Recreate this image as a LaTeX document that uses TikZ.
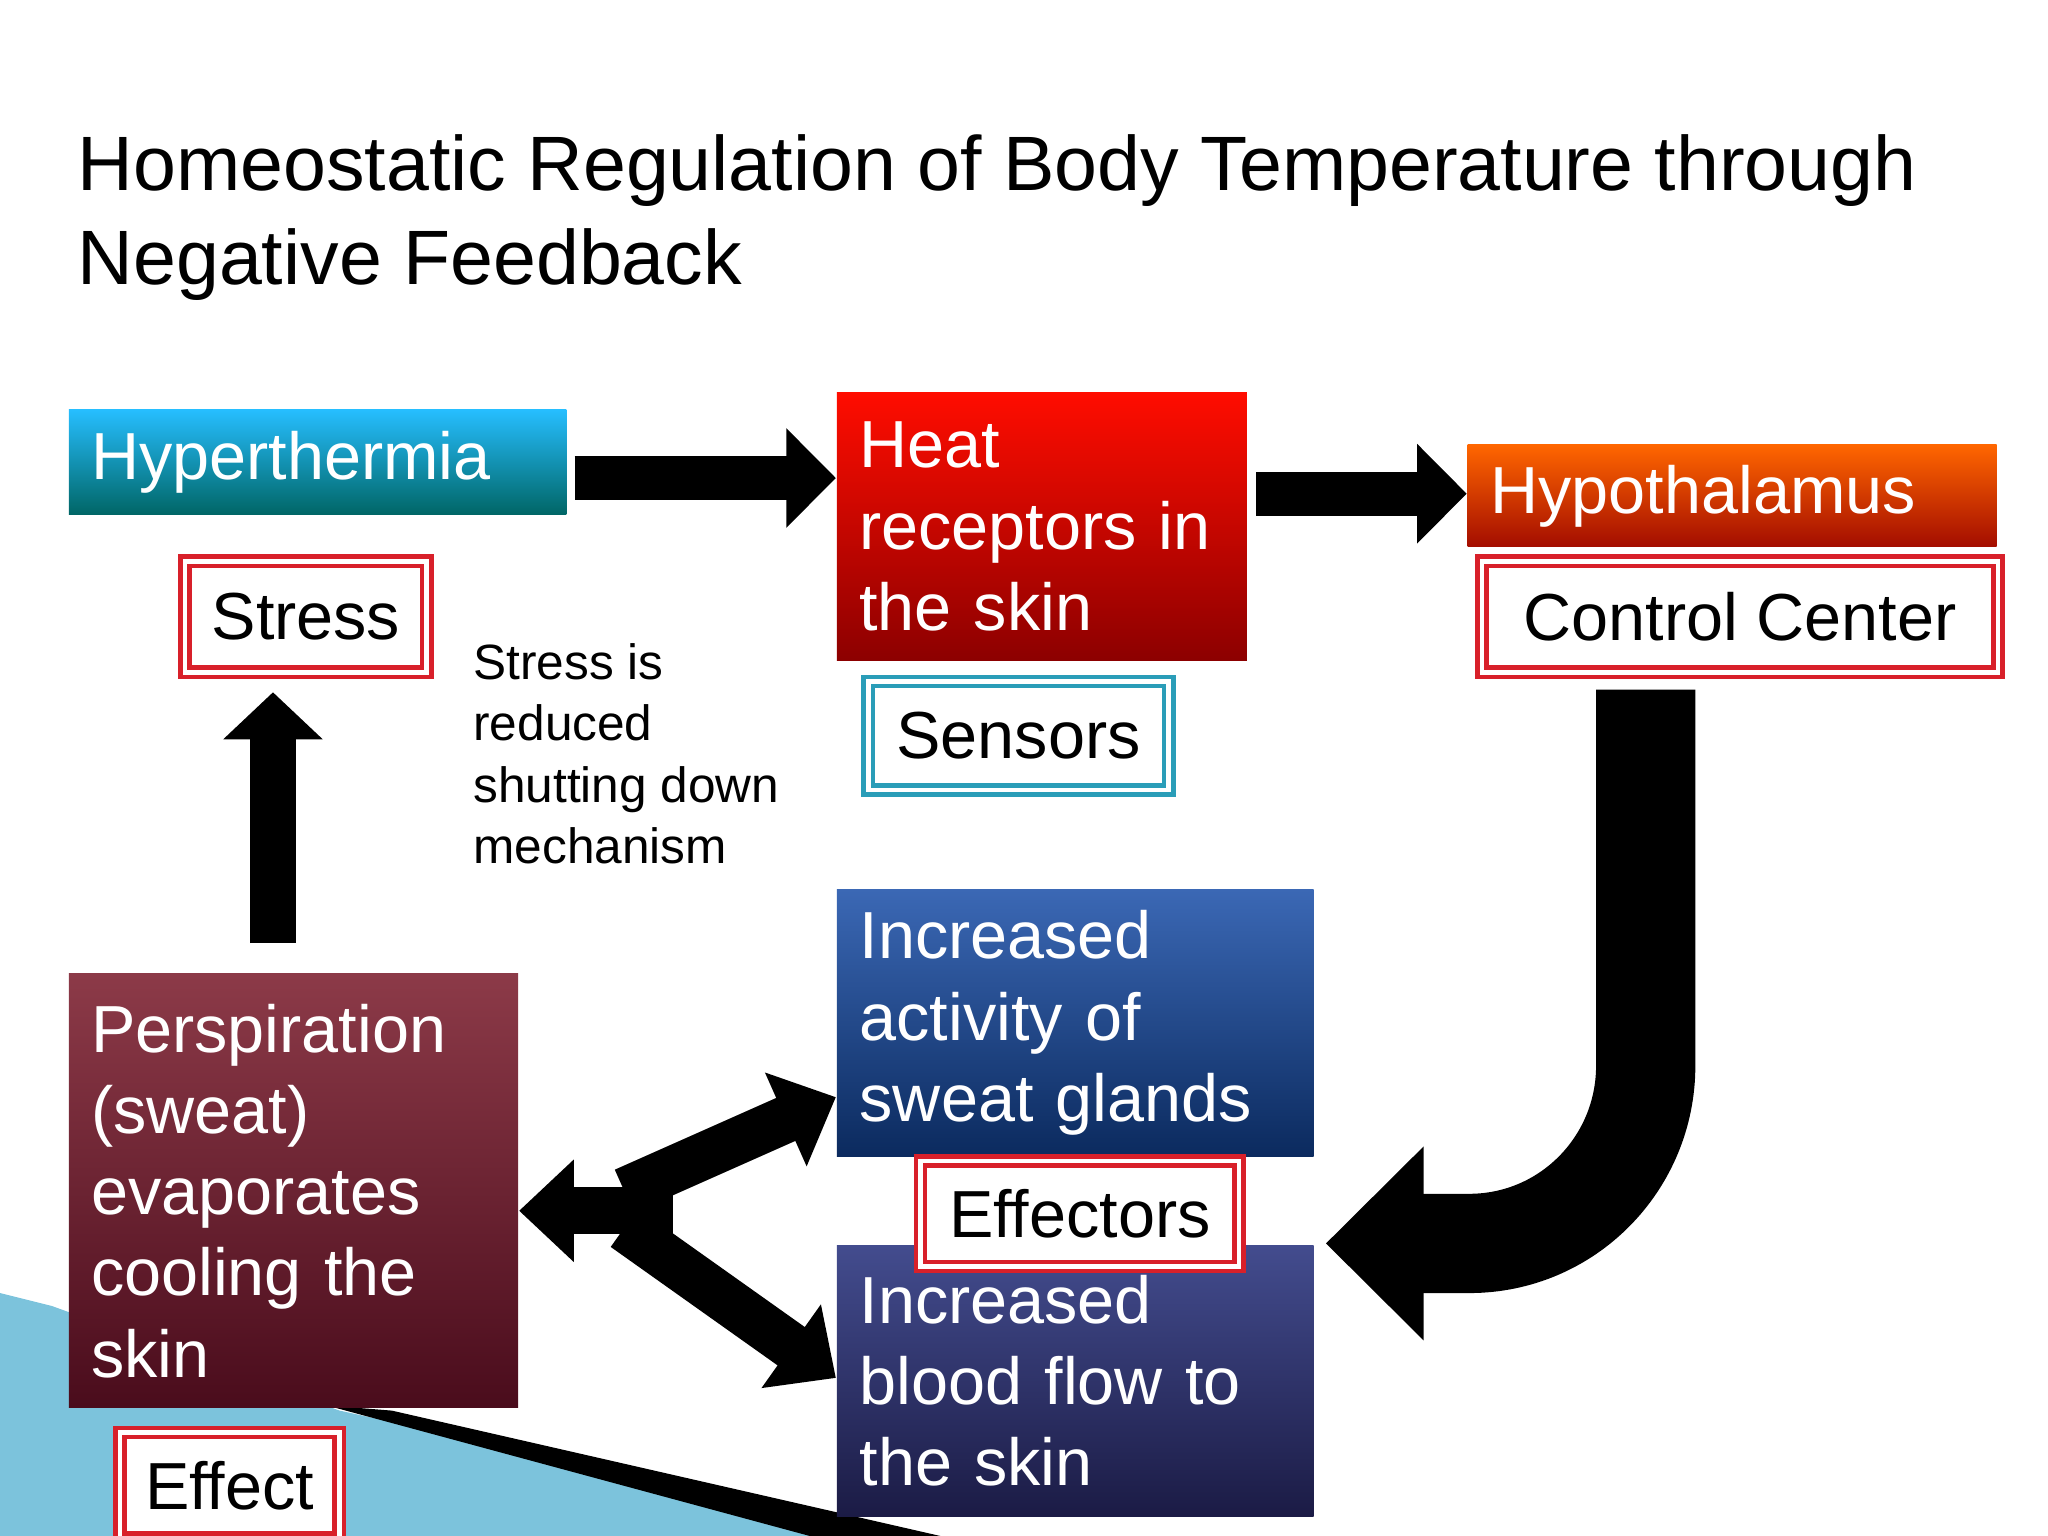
\documentclass[tikz,border=0pt]{standalone}
\usepackage{fontspec}
\setmainfont{Liberation Sans}
\usetikzlibrary{arrows.meta}
\definecolor{bred}{HTML}{D8202A}
\definecolor{bteal}{HTML}{2A9DB8}
\definecolor{swoosh}{HTML}{7CC3DC}
\definecolor{pertop}{HTML}{8C3A48}
\definecolor{perbot}{HTML}{4A0C1C}
\definecolor{acttop}{HTML}{3B68B5}
\definecolor{actbot}{HTML}{0B2A5E}
\definecolor{bltop}{HTML}{434C8E}
\definecolor{blbot}{HTML}{1B1B45}
\tikzset{
  box/.style={anchor=north west, inner sep=0pt, align=left, text=white,
     font=\fontsize{14.5}{17.7}\selectfont, text width=#1},
  lab/.style={anchor=north west, draw=#1, line width=0.35mm, double=white, double distance=0.35mm,
     fill=white, inner sep=0pt, font=\fontsize{14.5}{17.7}\selectfont},
  blk/.style={line width=3.4mm, -{Triangle[width=7.4mm,length=3.8mm]}},
  blk2/.style={line width=3.6mm, -{Triangle[width=7.6mm,length=4.2mm]}},
}
\begin{document}
\begin{tikzpicture}[x=0.1mm,y=0.1mm]
\useasboundingbox (0,0) rectangle (1568,1176);
% background decoration
\fill[swoosh] (0,186) -- (40,176) -- (260,96) -- (700,0) -- (0,0) -- cycle;
\fill[black] (250,100) -- (300,96) -- (720,0) -- (620,0) -- cycle;
% title
\node[anchor=north west, align=left, font=\fontsize{16.8}{20.3}\selectfont] (title) at (47,1085)
  {Homeostatic Regulation of Body Temperature through\\Negative Feedback};
% boxes
\node[box=34.7mm, minimum width=38.1mm, minimum height=8mm, top color=cyan!70!blue!85, bottom color=cyan!40!black, inner xsep=1.7mm] (hyp) at (52,863) {Hyperthermia};
\node[box=28mm, minimum width=31.3mm, minimum height=20.5mm, top color=red!90!orange, bottom color=red!55!black, inner xsep=1.7mm] (heat) at (640,876) {Heat\\receptors in\\the skin};
\node[box=37mm, minimum width=40.5mm, minimum height=7.8mm, top color=orange!80!red, bottom color=red!60!black!90!orange, inner xsep=1.7mm] (hypo) at (1123,836) {Hypothalamus};
\node[box=33mm, minimum width=36.5mm, minimum height=20.5mm, top color=acttop, bottom color=actbot, inner xsep=1.7mm] (act) at (640,496) {Increased\\activity of\\sweat glands};
\node[box=33mm, minimum width=36.5mm, minimum height=20.7mm, top color=bltop, bottom color=blbot, inner xsep=1.7mm] (blood) at (640,223) {Increased\\blood flow to\\the skin};
\node[box=31mm, minimum width=34mm, minimum height=33.2mm, top color=pertop, bottom color=perbot, inner xsep=1.7mm] (persp) at (52,431) {Perspiration\\(sweat)\\evaporates\\cooling the\\skin};
% labels
\node[lab=bred, minimum width=18.5mm, minimum height=8.5mm] (stress) at (140,748) {Stress};
\node[lab=bteal, minimum width=23mm, minimum height=8.3mm] (sens) at (663,656) {Sensors};
\node[lab=bred, minimum width=39.5mm, minimum height=8.5mm] (cc) at (1133,748) {Control Center};
\node[lab=bred, minimum width=24.4mm, minimum height=8.1mm] (eff) at (703,289) {Effectors};
\node[lab=bred, minimum width=16.8mm, minimum height=8.1mm] (effect) at (90,81) {Effect};
\node[anchor=north west, align=left, font=\fontsize{10.8}{13.4}\selectfont] (note) at (350,696)
  {Stress is\\reduced\\shutting down\\mechanism};
% arrows
\draw[blk] (440,810) -- (heat.west |- 0,810);
\draw[blk] (962,798) -- (hypo.west |- 0,798);
\draw[line width=3.5mm, -{Triangle[width=7.4mm,length=3.6mm]}] (209,454) -- (209,646);
\draw[line width=7.6mm, -{Triangle[width=14.4mm,length=7.5mm]}] (1260,648) -- (1260,360) to[out=-90,in=0] (1125,224) -- (1015,224);
\draw[blk2] (515,249) -- (persp.east |- 0,249);
\draw[blk2] (478,264) -- (act.south west |- 0,336);
\draw[blk2] (478,236) -- (blood.west |- 0,121);
\end{tikzpicture}
\end{document}
